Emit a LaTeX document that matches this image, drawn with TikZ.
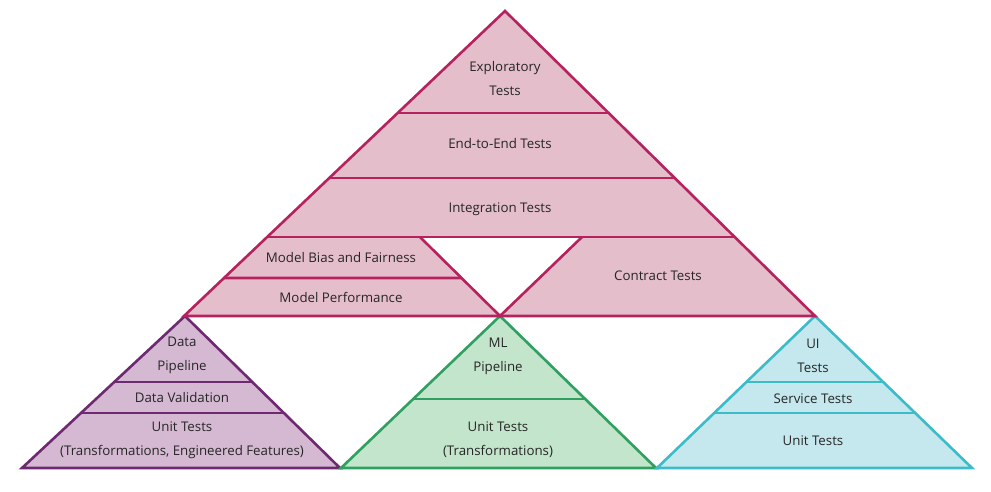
\documentclass[tikz,border=0pt]{standalone}
\usepackage{fontspec}
\setmainfont{Open Sans}
\usetikzlibrary{calc}
\definecolor{pinkfill}{HTML}{E5BECB}
\definecolor{pinkline}{HTML}{B5225E}
\definecolor{purpfill}{HTML}{D5B9D3}
\definecolor{purpline}{HTML}{6E2A70}
\definecolor{greenfill}{HTML}{C2E5CB}
\definecolor{greenline}{HTML}{2FA060}
\definecolor{cyanfill}{HTML}{C4E8EE}
\definecolor{cyanline}{HTML}{3DBBC9}
\tikzset{
  pyr/.style={line width=2.6pt, line join=miter},
  lbl/.style={font=\fontsize{13.3}{24}\selectfont, align=center, inner sep=0pt, text=black!85},
}
\begin{document}
\begin{tikzpicture}[x=1pt,y=-1pt]
\useasboundingbox (0,0) rectangle (991,491);
% ---- purple pyramid
\coordinate (P) at (185,316); \coordinate (PL) at (22,468); \coordinate (PR) at (340,468);
\filldraw[pyr, fill=purpfill, draw=purpline] (P) -- (PR) -- (PL) -- cycle;
\draw[pyr, draw=purpline] ($(P)!0.434!(PL)$) -- ($(P)!0.434!(PR)$);
\draw[pyr, draw=purpline] ($(P)!0.638!(PL)$) -- ($(P)!0.638!(PR)$);
% ---- green pyramid
\coordinate (G) at (500,316); \coordinate (GL) at (341,468); \coordinate (GR) at (656,468);
\filldraw[pyr, fill=greenfill, draw=greenline] (G) -- (GR) -- (GL) -- cycle;
\draw[pyr, draw=greenline] ($(G)!0.546!(GL)$) -- ($(G)!0.546!(GR)$);
% ---- cyan pyramid
\coordinate (C) at (815,316); \coordinate (CL) at (657,468); \coordinate (CR) at (972,468);
\filldraw[pyr, fill=cyanfill, draw=cyanline] (C) -- (CR) -- (CL) -- cycle;
\draw[pyr, draw=cyanline] ($(C)!0.434!(CL)$) -- ($(C)!0.434!(CR)$);
\draw[pyr, draw=cyanline] ($(C)!0.638!(CL)$) -- ($(C)!0.638!(CR)$);
% ---- big pyramid
\coordinate (A) at (505,11); \coordinate (BL) at (184,316); \coordinate (BR) at (815,316);
\coordinate (H1) at (420,237); \coordinate (H2) at (582,237); \coordinate (H3) at (500,316);
\filldraw[pyr, fill=pinkfill, draw=pinkline] (A) -- (BR) -- (BL) -- cycle;
\fill[white] (H1) -- (H3) -- (H2) -- cycle;
\draw[pyr, draw=pinkline] (H1) -- (H3) -- (H2);
\draw[pyr, draw=pinkline] ($(A)!0.3344!(BL)$) -- ($(A)!0.3344!(BR)$);
\draw[pyr, draw=pinkline] ($(A)!0.5475!(BL)$) -- ($(A)!0.5475!(BR)$);
\draw[pyr, draw=pinkline] ($(A)!0.741!(BL)$) -- ($(A)!0.741!(BR)$);
\draw[pyr, draw=pinkline] ($(A)!0.8754!(BL)$) -- ($(H1)!0.519!(H3)$);
% ---- labels
\node[lbl] (exp) at (505,79) {Exploratory\\Tests};
\node[lbl] (e2e) at (500,144) {End-to-End Tests};
\node[lbl] (int) at (500,209) {Integration Tests};
\node[lbl] (bias) at (341,258) {Model Bias and Fairness};
\node[lbl] (perf) at (341,297) {Model Performance};
\node[lbl] (contract) at (658,276) {Contract Tests};
\node[lbl] (dp) at (182,355) {Data\\Pipeline};
\node[lbl] (dv) at (182,398) {Data Validation};
\node[lbl] (dut) at (182,440) {Unit Tests\\(Transformations, Engineered Features)};
\node[lbl] (ml) at (498,356) {ML\\Pipeline};
\node[lbl] (mlut) at (498,440) {Unit Tests\\(Transformations)};
\node[lbl] (ui) at (813,356) {UI\\Tests};
\node[lbl] (svc) at (813,399) {Service Tests};
\node[lbl] (uut) at (813,441) {Unit Tests};
\end{tikzpicture}
\end{document}
